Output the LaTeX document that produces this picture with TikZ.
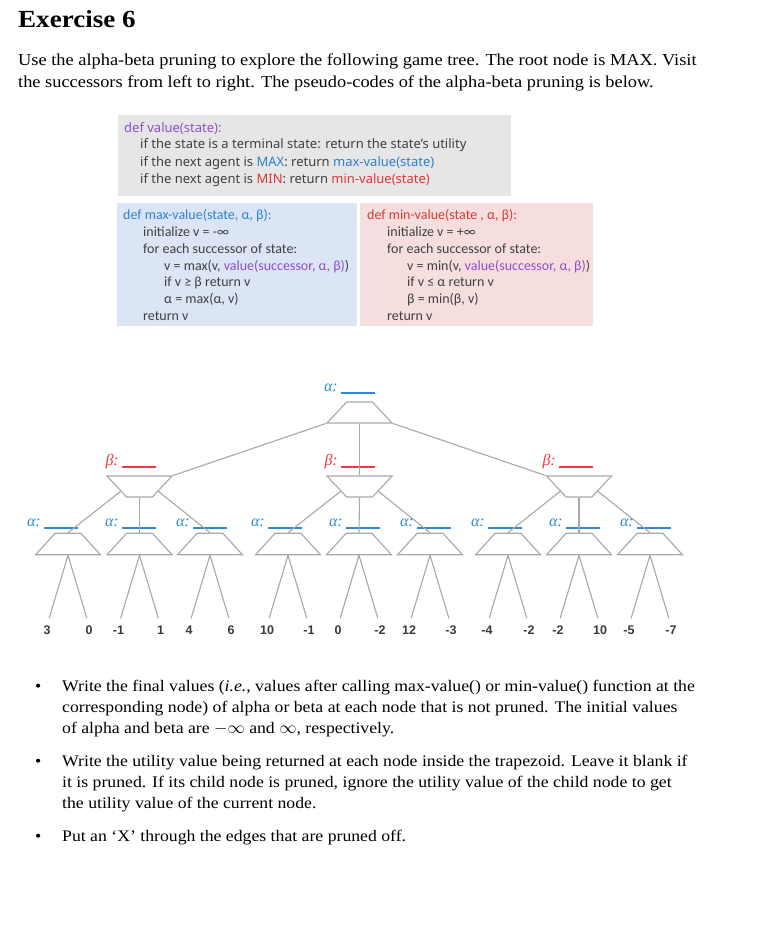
\documentclass[tikz,border=0pt]{standalone}
\usepackage{fontspec}
\setmainfont[FakeStretch=1.1]{Liberation Serif}
\newfontfamily\labfont{Liberation Serif}
\newfontfamily\codefont{Carlito}
\newfontfamily\topfont{Noto Sans}
\newfontfamily\leaffont{Liberation Sans}
\usetikzlibrary{shapes.geometric,calc}
\definecolor{codegray}{HTML}{404040}
\definecolor{cpurple}{HTML}{8E4EC6}
\definecolor{cblue}{HTML}{2F7FD1}
\definecolor{cred}{HTML}{D93A35}
\definecolor{boxgray}{HTML}{E6E6E6}
\definecolor{boxblue}{HTML}{DCE5F5}
\definecolor{boxpink}{HTML}{F6DEDE}
\definecolor{treegray}{HTML}{A8A8A8}
\definecolor{labblue}{HTML}{2F88D4}
\definecolor{labred}{HTML}{F03A40}
\definecolor{leafgray}{HTML}{3A3A3A}
\begin{document}
\begin{tikzpicture}[x=1pt,y=-1pt,
  txt/.style={anchor=base west, inner sep=0, font=\fontsize{16.1}{19}\selectfont},
  ptxt/.style={txt, font=\fontsize{16.7}{19}\selectfont},
  ttl/.style={anchor=base west, inner sep=0, font=\bfseries\fontsize{24.6}{28}\selectfont},
  code/.style={anchor=base west, inner sep=0, font=\codefont\fontsize{14}{16}\selectfont, text=codegray},
  topcode/.style={anchor=base west, inner sep=0, font=\topfont\fontsize{13}{15}\selectfont, text=codegray},
  maxnode/.style={trapezium, trapezium stretches=true, trapezium left angle=52.7, trapezium right angle=52.7, minimum width=65pt, minimum height=21pt, inner sep=1pt, draw=treegray, line width=1.1pt},
  minnode/.style={maxnode, trapezium left angle=127.3, trapezium right angle=127.3},
  treeline/.style={draw=treegray, line width=1.1pt},
  leaf/.style={font=\leaffont\bfseries\fontsize{12.5}{14}\selectfont, text=leafgray, inner sep=0},
  alab/.style={anchor=base east, inner sep=0, text=labblue, font=\labfont\itshape\fontsize{16}{19}\selectfont},
  blab/.style={alab, text=labred},
  blank/.style={line width=1.2pt}
]
\useasboundingbox (0,0) rectangle (775,939);
\fill[white] (0,0) rectangle (775,939);

% heading and intro
\node[ttl] (title) at (18,28) {Exercise 6};
\node[ptxt] (p1) at (18,66) {Use the alpha-beta pruning to explore the following game tree. The root node is MAX. Visit};
\node[ptxt] (p2) at (18,88) {the successors from left to right. The pseudo-codes of the alpha-beta pruning is below.};

% code boxes
\fill[boxgray] (118,115) rectangle (511,196);
\fill[boxblue] (117,203) rectangle (357,326);
\fill[boxpink] (360,203) rectangle (593,326);

\node[topcode, text=cpurple] (v0) at (124,132) {def value(state):};
\node[topcode] (v1) at (140,149) {if the state is a terminal state: return the state’s utility};
\node[topcode] (v2) at (140,166) {if the next agent is \textcolor{cblue}{MAX}: return \textcolor{cblue}{max-value(state)}};
\node[topcode] (v3) at (140,183) {if the next agent is \textcolor{cred}{MIN}: return \textcolor{cred}{min-value(state)}};

\node[code, text=cblue] (a0) at (123,219) {def max-value(state, α, β):};
\node[code] (a1) at (143,236) {initialize v = -∞};
\node[code] (a2) at (143,253) {for each successor of state:};
\node[code] (a3) at (164,270) {v = max(v, \textcolor{cpurple}{value(successor, α, β)})};
\node[code] (a4) at (164,286) {if v ≥ β return v};
\node[code] (a5) at (164,303) {α = max(α, v)};
\node[code] (a6) at (143,320) {return v};

\node[code, text=cred] (b0) at (367,219) {def min-value(state , α, β):};
\node[code] (b1) at (387,236) {initialize v = +∞};
\node[code] (b2) at (387,253) {for each successor of state:};
\node[code] (b3) at (407,270) {v = min(v, \textcolor{cpurple}{value(successor, α, β)})};
\node[code] (b4) at (407,286) {if v ≤ α return v};
\node[code] (b5) at (407,303) {β = min(β, v)};
\node[code] (b6) at (387,320) {return v};

% tree: root and MIN level
\node[maxnode] (root) at (359.5,412.5) {};
\node[alab] (rootlab) at (338,391) {α:};
\draw[blank, labblue] (341,393) -- (375,393);

\foreach \n/\x/\s in {L/139.5/122, M/359.5/341, R/579/559} {
  \node[minnode] (\n) at (\x,486.5) {};
  \node[blab] (\n lab) at (\s-3,465) {β:};
  \draw[blank, labred] (\s,467) -- (\s+34,467);
}

% MAX level and leaves
\foreach \n/\x/\s/\a/\b in {1/68/44/3/0, 2/139.5/122/-1/1, 3/210/193/4/6, 4/288/268/10/-1, 5/359/346/0/-2, 6/430/417/12/-3, 7/508/488/-4/-2, 8/579/566/-2/10, 9/650/637/-5/-7} {
  \node[maxnode, minimum height=21.5pt] (c\n) at (\x,544) {};
  \node[alab] (ca\n) at (\s-3,526.5) {α:};
  \draw[blank, labblue] (\s,528) -- (\s+34,528);
  \node[leaf] (la\n) at (\x-21,630) {\a};
  \node[leaf] (lb\n) at (\x+21,630) {\b};
  \draw[treeline, shorten >=7.5pt] (c\n.south) -- (la\n.north);
  \draw[treeline, shorten >=7.5pt] (c\n.south) -- (lb\n.north);
}

% edges root -> MIN
\draw[treeline] (root.bottom left corner) -- (L.top right corner);
\draw[treeline] (root.south) -- (M.north);
\draw[treeline] (root.bottom right corner) -- (R.top left corner);

% edges MIN -> MAX
\foreach \p/\l/\m/\r in {L/1/2/3, M/4/5/6, R/7/8/9} {
  \draw[treeline] ($(\p.top left corner)!0.72!(\p.bottom left corner)$) -- (c\l.north);
  \draw[treeline] (\p.south) -- (c\m.north);
  \draw[treeline] ($(\p.top right corner)!0.72!(\p.bottom right corner)$) -- (c\r.north);
}

% bullets
\foreach \y in {691,766,841} {\node[txt] at (35,\y) {\textbullet};}
\node[txt] (q1) at (62,691) {Write the final values (\textit{i.e.}, values after calling max-value() or min-value() function at the};
\node[txt] (q2) at (62,712) {corresponding node) of alpha or beta at each node that is not pruned. The initial values};
\node[txt] (q3) at (62,733) {of alpha and beta are $-\infty$ and $\infty$, respectively.};
\node[txt] (q4) at (62,766) {Write the utility value being returned at each node inside the trapezoid. Leave it blank if};
\node[txt] (q5) at (62,787) {it is pruned. If its child node is pruned, ignore the utility value of the child node to get};
\node[txt] (q6) at (62,808) {the utility value of the current node.};
\node[txt] (q7) at (62,841) {Put an ‘X’ through the edges that are pruned off.};
\end{tikzpicture}
\end{document}
